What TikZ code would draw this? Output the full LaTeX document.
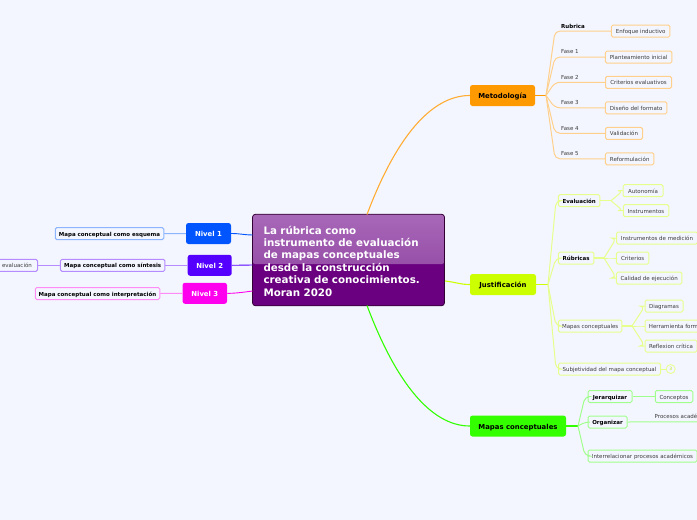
\documentclass[tikz,border=0pt]{standalone}
\usepackage{fontspec}
\setmainfont{DejaVu Sans}
\definecolor{bgc}{HTML}{F4F6FF}
\definecolor{oL}{HTML}{FFD08C}
\definecolor{oS}{HTML}{FF9900}
\definecolor{yL}{HTML}{E6FF8C}
\definecolor{yS}{HTML}{CCFF00}
\definecolor{gL}{HTML}{A0FF8C}
\definecolor{gS}{HTML}{33FF00}
\definecolor{bL}{HTML}{8CB4FF}
\definecolor{bS}{HTML}{0055FF}
\definecolor{pL}{HTML}{B48CFF}
\definecolor{pS}{HTML}{5500FF}
\definecolor{mL}{HTML}{FF8CF6}
\definecolor{mS}{HTML}{FF00EE}
\definecolor{txt}{HTML}{3C3C3C}
\tikzset{
 main/.style={rounded corners=2.5pt,inner sep=0pt,minimum height=21pt,text height=6.5pt,text depth=.5pt,font=\fontsize{6.9}{8}\selectfont\bfseries},
 sub/.style={rounded corners=1.5pt,inner sep=0pt,minimum height=12pt,text height=5.5pt,text depth=.5pt,line width=1pt,fill=bgc,font=\fontsize{5.5}{6.5}\selectfont,text=txt},
 subb/.style={sub,font=\fontsize{5.5}{6.5}\selectfont\bfseries,text=black},
 lab/.style={inner sep=0pt,font=\fontsize{5.5}{6.5}\selectfont,text=txt,anchor=west},
 link/.style={line width=1pt,rounded corners=5pt},
 stem/.style={line width=1.2pt},
}
\newcommand{\brn}[4]{\draw[link,#1] (#2) -- ([xshift=#3pt]#2 |- #4) -- (#4);}
\begin{document}
\begin{tikzpicture}[x=1pt,y=-1pt]
\useasboundingbox (0,0) rectangle (697,520);
\clip (0,0) rectangle (697,520);
\fill[bgc] (0,0) rectangle (697,520);
% root
\node (root) at (348.5,260) [rounded corners=3pt,draw=black!60!violet,line width=.8pt,minimum width=192pt,minimum height=91.5pt,inner sep=0pt,fill={rgb,255:red,106;green,0;blue,128},
  path picture={\shade[top color={rgb,255:red,168;green,104;blue,184},bottom color={rgb,255:red,138;green,60;blue,156}] (root.north west) rectangle ([yshift=-4pt]root.east);}] {};
\node (roottext) at (348.5,261) [inner sep=0pt,text=white,align=left,text width=170pt,font=\fontsize{10.3}{12.4}\selectfont\bfseries]
  {La rúbrica como\\instrumento de evaluación\\de mapas conceptuales\\desde la construcción\\creativa de conocimientos.\\Moran 2020};
% main branches
\node[main,fill=oS,minimum width=65pt] (met) at (502.5,95.5) {Metodología};
\node[main,fill=yS,minimum width=66pt] (jus) at (503,284.5) {Justificación};
\node[main,fill=gS,minimum width=96pt] (map) at (518,426) {Mapas conceptuales};
\node[main,fill=bS,text=white,minimum width=45pt] (n1) at (208.5,233.5) {Nivel 1};
\node[main,fill=pS,text=white,minimum width=44pt] (n2) at (209.7,265.3) {Nivel 2};
\node[main,fill=mS,text=white,minimum width=44.5pt] (n3) at (204.8,293.3) {Nivel 3};
\coordinate (r1) at (367,214.5);
\coordinate (r2) at (445,281);
\coordinate (r3) at (367,305.5);
\draw[oS!80,line width=1.1pt] (r1) .. controls (395,140) and (430,95.5) .. (met.west);
\draw[yS,line width=1.1pt] (r2) .. controls (455,282) and (460,284.5) .. (jus.west);
\draw[gS,line width=1.1pt] (r3) .. controls (395,380) and (430,426) .. (map.west);
\coordinate (l1) at (252.5,235);
\coordinate (l2) at (252.5,265);
\coordinate (l3) at (252.5,291);
\draw[bS,line width=.9pt] (n1.east) .. controls (240,233.5) and (245,235) .. (l1);
\draw[pS,line width=.9pt] (n2.east) -- (l2);
\draw[mS,line width=.9pt] (n3.east) .. controls (235,293.5) and (245,292) .. (l3);
% Metodologia
\coordinate (mh) at (546,95.5);
\draw[stem,oS] (met.east) -- (mh);
\node[sub,draw=oL,minimum width=58.5pt] (m0) at (640.7,31) {Enfoque inductivo};
\node[sub,draw=oL,minimum width=66.5pt] (m1) at (638.7,57) {Planteamiento inicial};
\node[sub,draw=oL,minimum width=66pt] (m2) at (638.5,82.3) {Criterios evaluativos};
\node[sub,draw=oL,minimum width=61.5pt] (m3) at (636.2,107.8) {Diseño del formato};
\node[sub,draw=oL,minimum width=37pt] (m4) at (624,133.3) {Validación};
\node[sub,draw=oL,minimum width=48.5pt] (m5) at (629.7,158.8) {Reformulación};
\node[lab,font=\fontsize{5.5}{6.5}\selectfont\bfseries,text=black] (ml0) at (561,26.5) {Rubrica};
\node[lab] (ml1) at (561,51.3) {Fase 1};
\node[lab] (ml2) at (561,77.3) {Fase 2};
\node[lab] (ml3) at (561,102.3) {Fase 3};
\node[lab] (ml4) at (561,128.3) {Fase 4};
\node[lab] (ml5) at (561,153.3) {Fase 5};
\brn{oL}{mh}{9}{m0.west}
\brn{oL}{mh}{9}{m1.west}
\brn{oL}{mh}{9}{m2.west}
\brn{oL}{mh}{9}{m3.west}
\brn{oL}{mh}{9}{m4.west}
\brn{oL}{mh}{9}{m5.west}
% Justificacion
\coordinate (jh) at (548,284.5);
\draw[stem,yS] (jus.east) -- (jh);
\node[subb,draw=yL,minimum width=41.5pt] (j1) at (579.2,200.7) {Evaluación};
\node[subb,draw=yL,minimum width=35.5pt] (j2) at (576.2,258) {Rúbricas};
\node[sub,draw=yL,minimum width=63.5pt] (j3) at (590.2,326) {Mapas conceptuales};
\node[sub,draw=yL,minimum width=102pt] (j4) at (609.5,369) {Subjetividad del mapa conceptual};
\brn{yL}{jh}{8}{j1.west}
\brn{yL}{jh}{8}{j2.west}
\brn{yL}{jh}{8}{j3.west}
\brn{yL}{jh}{8}{j4.west}
\node[draw=yL,circle,line width=.8pt,minimum size=9pt,inner sep=0pt,fill=bgc,text=yS!80!gray,font=\fontsize{4.5}{5}\selectfont] (j4c) at (670.7,369) {3};
\draw[link,yL] (j4.east) -- (j4c.west);
\coordinate (ja) at (611,200.7);
\draw[stem,yL] (j1.east) -- (ja);
\node[sub,draw=yL,minimum width=40pt] (j11) at (643,190.7) {Autonomía};
\node[sub,draw=yL,minimum width=45.5pt] (j12) at (646,210.7) {Instrumentos};
\brn{yL}{ja}{12}{j11.west}
\brn{yL}{ja}{12}{j12.west}
\coordinate (jb) at (604,258);
\draw[stem,yL] (j2.east) -- (jb);
\node[sub,draw=yL,minimum width=81pt] (j21) at (657,238) {Instrumentos de medición};
\node[sub,draw=yL,minimum width=32.5pt] (j22) at (632.7,258) {Criterios};
\node[sub,draw=yL,minimum width=65.5pt] (j23) at (649.2,278) {Calidad de ejecución};
\brn{yL}{jb}{12.5}{j21.west}
\brn{yL}{jb}{12.5}{j22.west}
\brn{yL}{jb}{12.5}{j23.west}
\coordinate (jc) at (632,326);
\draw[stem,yL] (j3.east) -- (jc);
\node[sub,draw=yL,minimum width=38pt] (j31) at (664,306) {Diagramas};
\node[sub,draw=yL,minimum width=57pt] (j32) at (673.5,326) {Herramienta form};
\node[sub,draw=yL,minimum width=52pt] (j33) at (671,346) {Reflexion crítica};
\brn{yL}{jc}{13}{j31.west}
\brn{yL}{jc}{13}{j32.west}
\brn{yL}{jc}{13}{j33.west}
% Mapas
\coordinate (gh) at (578,426);
\draw[stem,gS] (map.east) -- (gh);
\node[subb,draw=gL,minimum width=44pt] (g1) at (610,396.5) {Jerarquizar};
\node[subb,draw=gL,minimum width=39pt] (g2) at (607.5,422) {Organizar};
\node[sub,draw=gL,minimum width=109pt] (g3) at (642.5,456) {Interrelacionar procesos académicos};
\brn{gL}{gh}{7}{g1.west}
\brn{gL}{gh}{7}{g2.west}
\brn{gL}{gh}{7}{g3.west}
\node[sub,draw=gL,minimum width=37.5pt] (g11) at (674,396.5) {Conceptos};
\draw[link,gL] (g1.east) -- (g11.west);
\node[lab] (g21) at (654.5,416.3) {Procesos acadé};
\coordinate (g2e) at (697,421.8);
\draw[link,gL] (g2.east) -- (g2e);
% Left
\node[subb,draw=bL,minimum width=108.5pt] (a1) at (109.5,233.7) {Mapa conceptual como esquema};
\node[subb,draw=pL,minimum width=104.5pt] (a2) at (112.7,265.3) {Mapa conceptual como síntesis};
\node[subb,draw=mL,minimum width=124.5pt] (a3) at (97.5,293.5) {Mapa conceptual como interpretación};
\draw[link,bL] (n1.west) -- (a1.east);
\draw[link,pL] (n2.west) -- (a2.east);
\draw[link,mL] (n3.west) -- (a3.east);
\node[sub,draw=pL,minimum width=50pt] (a21) at (12.5,265.3) {\hspace*{9pt}evaluación};
\draw[link,pL] (a2.west) -- (a21.east);
\end{tikzpicture}
\end{document}
